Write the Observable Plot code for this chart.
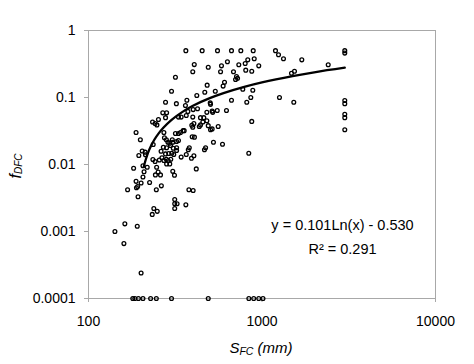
<!DOCTYPE html>
<html><head><meta charset="utf-8">
<script src="https://cdn.jsdelivr.net/npm/d3@7"></script>
<script src="https://cdn.jsdelivr.net/npm/@observablehq/plot@0.6"></script>
<style>
body{margin:0;background:#fff;}
#chart{width:474px;height:364px;}
</style></head><body><div id="chart"></div>
<script>
// S_FC (mm) of each observation
const sfc = [
 364,452,554,667,755,890,1196,1245,1330,1696,2408,3000,3000,3000,3000,3000,3000,3000,
 407,399,490,584,577,632,735,800,828,902,958,806,873,685,713,723,704,317,608,597,483,538,
 301,278,321,369,362,421,468,503,505,667,775,885,862,817,1261,1525,1479,1539,
 520,552,624,873,839,592,525,559,466,473,418,379,401,364,314,314,314,324,
 246,263,238,249,233,225,188,201,189,192,193,168,162,191,160,201,142,
 180,185,194,206,228,246,301,490,840,896,958,1013,
 268,282,366,374,401,425,481,516,253,278,330,342,399,442,405,394,399,462,456,481,490,505,516,442,435,
 234,242,248,272,188,317,330,339,351,356,396,408,274,281,287,304,306,294,322,330,199,236,
 270,282,297,308,322,322,381,376,204,212,262,278,290,302,310,342,366,392,405,195,213,
 235,242,256,265,272,281,288,298,282,294,182,206,209,218,247,243,252,260,306,313,206
];
// f_DFC of each observation
const fdfc = [
 0.5,0.5,0.5,0.5,0.5,0.5,0.5,0.434,0.378,0.365,0.308,0.5,0.46,0.090,0.081,0.056,0.050,0.033,
 0.31,0.242,0.283,0.297,0.242,0.341,0.308,0.322,0.365,0.378,0.297,0.256,0.247,0.242,0.206,0.194,0.186,0.201,0.169,0.148,0.153,0.124,
 0.124,0.085,0.081,0.091,0.076,0.107,0.120,0.083,0.079,0.091,0.133,0.128,0.100,0.085,0.100,0.085,0.230,0.247,
 0.060,0.064,0.064,0.044,0.0147,0.0201,0.0215,0.0369,0.0166,0.0178,0.0086,0.0042,0.0041,0.0025,0.0030,0.0026,0.0022,0.0026,
 0.0042,0.0048,0.0022,0.0020,0.0018,0.0054,0.0056,0.0053,0.0045,0.0047,0.0033,0.0042,0.0013,0.0012,0.00066,0.00024,0.001,
 0.0001,0.0001,0.0001,0.0001,0.0001,0.0001,0.0001,0.0001,0.0001,0.0001,0.0001,0.0001,
 0.059,0.059,0.054,0.062,0.066,0.068,0.060,0.063,0.047,0.050,0.051,0.051,0.051,0.050,0.041,0.0386,0.036,0.050,0.043,0.045,0.038,0.033,0.034,0.039,0.037,
 0.043,0.041,0.039,0.030,0.030,0.029,0.029,0.030,0.032,0.032,0.026,0.0256,0.025,0.0234,0.0215,0.0234,0.0215,0.0208,0.022,0.0228,0.0234,0.0199,
 0.0181,0.0178,0.0192,0.0175,0.0178,0.0162,0.0178,0.0166,0.0159,0.0153,0.0158,0.0144,0.0146,0.0147,0.0141,0.0129,0.0141,0.0124,0.0135,0.0136,0.014,
 0.0119,0.0111,0.0117,0.0126,0.0115,0.012,0.0115,0.012,0.0102,0.0102,0.0088,0.0065,0.0078,0.0091,0.0091,0.0070,0.0077,0.0070,0.0079,0.0069,0.0096
];
// trend line
const trendX = [208,212,215,220,230,240,255,270,300,350,400,500,600,800,1000,1500,2000,3000];
const trendY = [0.0092,0.0110,0.0124,0.0148,0.0192,0.0236,0.0297,0.0354,0.0461,0.0616,0.0751,0.0977,0.1161,0.1452,0.1677,0.2086,0.2377,0.2786];
const xTicks = [100, 1000, 10000];
const yTicks = [1, 0.1, 0.01, 0.001, 0.0001];
const eqLines = ["y = 0.101Ln(x) - 0.530"];
const r2Lines = ["R\u00b2 = 0.291"];

const points = sfc.map((x, i) => ({x, y: fdfc[i]}));
const trend = trendX.map((x, i) => ({x, y: trendY[i]}));

const plot = Plot.plot({
  width: 474, height: 364,
  marginLeft: 88, marginRight: 39, marginTop: 30, marginBottom: 66,
  style: {fontFamily: "'Liberation Sans', Arial, sans-serif", fontSize: "14px", color: "#000", background: "#fff", overflow: "visible"},
  x: {type: "log", domain: [100, 10000]},
  y: {type: "log", domain: [0.0001, 1]},
  marks: [
    Plot.frame({stroke: "#a8a8a8"}),
    Plot.axisX({ticks: xTicks, tickFormat: d => String(d), tickSize: 4, tickPadding: 14, stroke: "#a8a8a8", fill: "#000", label: null, fontSize: 14}),
    Plot.axisY({ticks: yTicks, tickFormat: d => String(d), tickSize: 4, tickPadding: 9, stroke: "#a8a8a8", fill: "#000", label: null, fontSize: 14}),
    Plot.dot(points, {x: "x", y: "y", r: 1.9, stroke: "#000", strokeWidth: 1.3, fill: "none"}),
    Plot.line(trend, {x: "x", y: "y", stroke: "#000", strokeWidth: 2.3, curve: "monotone-x"}),
    Plot.text(eqLines, {text: d => d, frameAnchor: "bottom-right", dx: -93, dy: -69, textAnchor: "middle", fontSize: 14.5, fill: "#000"}),
    Plot.text(r2Lines, {text: d => d, frameAnchor: "bottom-right", dx: -93, dy: -45, textAnchor: "middle", fontSize: 14.5, fill: "#000"})
  ]
});
document.getElementById("chart").appendChild(plot);

const svg = d3.select(plot);
const yl = svg.append("text")
  .attr("transform", "translate(21,166) rotate(-90)")
  .attr("text-anchor", "middle")
  .style("font-family", "'Liberation Sans', Arial, sans-serif")
  .style("font-style", "italic").attr("fill", "#000");
yl.append("tspan").style("font-size", "16px").text("f");
yl.append("tspan").style("font-size", "10px").attr("dy", 1).text("DFC");

const xl = svg.append("text")
  .attr("transform", "translate(261,353)")
  .attr("text-anchor", "middle")
  .style("font-family", "'Liberation Sans', Arial, sans-serif")
  .style("font-style", "italic").attr("fill", "#000");
xl.append("tspan").style("font-size", "15px").text("S");
xl.append("tspan").style("font-size", "10.5px").attr("dy", 1.5).text("FC");
xl.append("tspan").style("font-size", "15px").attr("dy", -1.5).text(" (mm)");
</script></body></html>
